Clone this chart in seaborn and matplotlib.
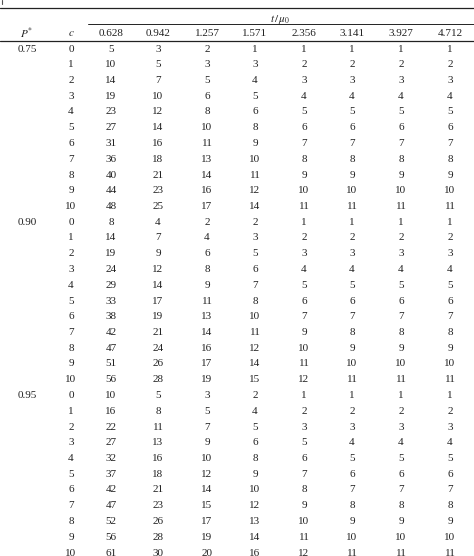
import matplotlib
matplotlib.use("Agg")
import matplotlib.pyplot as plt
import seaborn as sns

sns.set_style("white")
plt.rcParams["font.family"] = ["Liberation Serif", "DejaVu Serif"]
plt.rcParams["mathtext.fontset"] = "stix"

t_labels = ["0.628", "0.942", "1.257", "1.571", "2.356", "3.141", "3.927", "4.712"]
p_levels = ["0.75", "0.90", "0.95"]
c_values = list(range(11))

n_075 = [
    [5, 3, 2, 1, 1, 1, 1, 1],
    [10, 5, 3, 3, 2, 2, 2, 2],
    [14, 7, 5, 4, 3, 3, 3, 3],
    [19, 10, 6, 5, 4, 4, 4, 4],
    [23, 12, 8, 6, 5, 5, 5, 5],
    [27, 14, 10, 8, 6, 6, 6, 6],
    [31, 16, 11, 9, 7, 7, 7, 7],
    [36, 18, 13, 10, 8, 8, 8, 8],
    [40, 21, 14, 11, 9, 9, 9, 9],
    [44, 23, 16, 12, 10, 10, 10, 10],
    [48, 25, 17, 14, 11, 11, 11, 11],
]
n_090 = [
    [8, 4, 2, 2, 1, 1, 1, 1],
    [14, 7, 4, 3, 2, 2, 2, 2],
    [19, 9, 6, 5, 3, 3, 3, 3],
    [24, 12, 8, 6, 4, 4, 4, 4],
    [29, 14, 9, 7, 5, 5, 5, 5],
    [33, 17, 11, 8, 6, 6, 6, 6],
    [38, 19, 13, 10, 7, 7, 7, 7],
    [42, 21, 14, 11, 9, 8, 8, 8],
    [47, 24, 16, 12, 10, 9, 9, 9],
    [51, 26, 17, 14, 11, 10, 10, 10],
    [56, 28, 19, 15, 12, 11, 11, 11],
]
n_095 = [
    [10, 5, 3, 2, 1, 1, 1, 1],
    [16, 8, 5, 4, 2, 2, 2, 2],
    [22, 11, 7, 5, 3, 3, 3, 3],
    [27, 13, 9, 6, 5, 4, 4, 4],
    [32, 16, 10, 8, 6, 5, 5, 5],
    [37, 18, 12, 9, 7, 6, 6, 6],
    [42, 21, 14, 10, 8, 7, 7, 7],
    [47, 23, 15, 12, 9, 8, 8, 8],
    [52, 26, 17, 13, 10, 9, 9, 9],
    [56, 28, 19, 14, 11, 10, 10, 10],
    [61, 30, 20, 16, 12, 11, 11, 11],
]

fig = plt.figure(figsize=(4.74, 5.56), dpi=100)
ax = fig.add_axes([0, 0, 1, 1])
ax.set_xlim(0, 474)
ax.set_ylim(556, 0)
ax.axis("off")

fs = 8
col = "#222222"
col_x = [111, 158, 207, 255, 304, 352, 401, 450]

ax.plot([2, 2], [0, 4], color="#555555", lw=0.8)
ax.axhline(8, color=col, lw=0.9)
ax.text(280, 19, r"$t\,/\,\mu_0$", ha="center", va="center", fontsize=fs, color=col)
ax.plot([88, 474], [24, 24], color=col, lw=0.7)
ax.text(27, 33, r"$P^{*}$", ha="center", va="center", fontsize=fs, color=col)
ax.text(71, 33, r"$c$", ha="center", va="center", fontsize=fs, color=col)
for x, lab in zip(col_x, t_labels):
    ax.text(x, 33, lab, ha="center", va="center", fontsize=fs, color=col)
ax.axhline(41, color=col, lw=0.9)

y0, dy = 49, 15.75
row = 0
for p, block in zip(p_levels, [n_075, n_090, n_095]):
    for c, vals in zip(c_values, block):
        y = y0 + row * dy
        if c == 0:
            ax.text(27, y, p, ha="center", va="center", fontsize=fs, color=col)
        ax.text(71, y, str(c), ha="center", va="center", fontsize=fs, color=col)
        for x, v in zip(col_x, vals):
            ax.text(x, y, str(v), ha="center", va="center", fontsize=fs, color=col)
        row += 1

fig.savefig("out.png", dpi=100)
